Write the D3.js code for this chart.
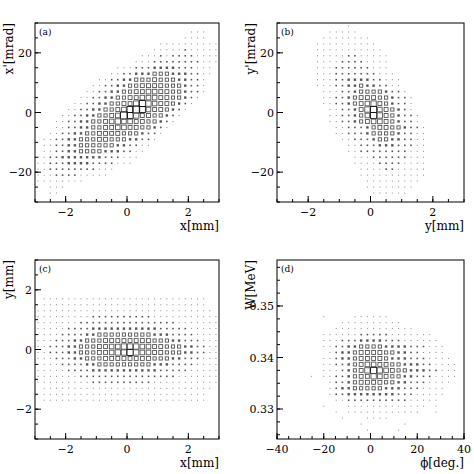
<!DOCTYPE html>
<html><head><meta charset="utf-8">
<script src="https://cdn.jsdelivr.net/npm/d3@7"></script>
<style>body{margin:0;background:#fff} text{font-family:"DejaVu Serif","Liberation Serif",serif}</style>
</head><body><svg id="c" width="474" height="474"></svg>
<script>
// each row: [row index, first column, box levels ('.' = empty)]; 30x30 bins per panel
var cellsA = [
	[1,25,"111"],[2,24,"1111"],[3,20,"1111111111"],[4,19,"11111211111"],
	[5,17,"1112122221111"],[6,16,"11122222222111"],[7,13,"1112223333222111"],
	[8,12,"11223334443332211"],[9,10,"112233444544433221"],[10,9,"1122334455554443221"],
	[11,8,"11223344556655443221"],[12,7,"11223344556665544321"],[13,6,"11223344557876554321"],
	[14,5,"11223344568986554321"],[15,4,"11223344569875544321"],[16,3,"11223344567665544321"],
	[17,3,"1122334455665544321"],[18,2,"1122334455554443221"],[19,1,"1122334445544433221"],
	[20,1,"112233444444332211"],[21,1,"11223344443332211"],[22,0,"11223333333222111"],
	[23,0,"1122233332222111"],[24,0,"1122222222111"],[25,0,"111222211111"],
	[26,0,"11111111"],[27,2,"111"],[28,2,"11"]
];
var cellsB = [
	[0,11,"1"],[1,8,"11111"],[2,7,"11111111"],[3,6,"1111111111"],[4,6,"11111111111"],
	[5,6,"111112211111"],[6,6,"111122221111"],[7,6,"111222222111"],[8,6,"1112222222111"],
	[9,6,"11122333322111"],[10,6,"11122334332211"],[11,7,"11122344443221"],
	[12,7,"112234555443221"],[13,7,"112234567543221"],[14,8,"11223578654321"],
	[15,8,"112234687543221"],[16,8,"112234566543221"],[17,9,"112223455443221"],
	[18,9,"112223444432211"],[19,10,"11222344332211"],[20,11,"1122233322211"],
	[21,11,"1122222222111"],[22,12,"111222222111"],[23,12,"111122221111"],
	[24,13,"11112211111"],[25,13,"11111111111"],[26,14,"111111111"],
	[27,14,"11111111"],[28,15,"111111"]
];
var cellsC = [
	[6,1,"111111111111111111111111111"],[7,1,"111111111111111111111111111"],
	[8,0,"11111111111111111111111111111"],[9,0,"111111111222222222211111111111"],
	[10,0,"111111122222222222222221111111"],[11,0,"111112222333333333332222211111"],
	[12,0,"111122223344444444433322221111"],[13,0,"111222334445555555544433222111"],
	[14,0,"112223344455667776655444332211"],[15,0,"112223344455677876655444332211"],
	[16,0,"111222334445555555544433222111"],[17,0,"111122223344444444433322221111"],
	[18,0,"111112222333333333332222211111"],[19,0,"111111122222222222222221111111"],
	[20,0,"111111111222222222211111111111"],[21,1,"1111111111111111111111111111"],
	[22,1,"111111111111111111111111111"],[23,1,"111111111111111111111111111"]
];
var cellsD = [
	[9,7,"1....111111"],[10,10,"1111111111"],[11,9,"1111111111111"],
	[12,7,"111111222221111111"],[13,7,"1112223333222111111"],[14,7,"11223344443333222111"],
	[15,8,"1233455554433221111"],[16,7,"112334555543332221111"],[17,7,"1122345665544333221111"],
	[18,7,"1112345787654433322111"],[19,5,"1.1122345576544332221111"],[20,8,"12234555544332221111"],
	[21,8,"1233444443332221111"],[22,8,"1223333333322211111"],[23,9,"11222222222211111"],
	[24,7,"1...1111111111111.1"],[25,9,"1.111111111111..1"],[26,10,"1...1111"],
	[27,13,"1......1"],[28,14,"1....1"]
];
var boxSide = [0,1,1.6,2.4,3.2,3.9,4.6,5.3,6.1,7];

var panels = [
	{cells:cellsA, x0:35,x1:219,y0:23,y1:202, xd:[-3,3], yd:[-30,30], xt:[-2,0,2], xm:0.5, yt:[-20,0,20], ym:5, xl:"x[mm]", yl:"x'[mrad]", tag:"(a)", fx:d3.format("d"), fy:d3.format("d")},
	{cells:cellsB, x0:277,x1:464,y0:23,y1:202, xd:[-3,3], yd:[-30,30], xt:[-2,0,2], xm:0.5, yt:[-20,0,20], ym:5, xl:"y[mm]", yl:"y'[mrad]", tag:"(b)", fx:d3.format("d"), fy:d3.format("d")},
	{cells:cellsC, x0:35,x1:219,y0:260,y1:439, xd:[-3,3], yd:[-3,3], xt:[-2,0,2], xm:0.5, yt:[-2,0,2], ym:0.5, xl:"x[mm]", yl:"y[mm]", tag:"(c)", fx:d3.format("d"), fy:d3.format("d")},
	{cells:cellsD, x0:277,x1:464,y0:260,y1:439, xd:[-40,40], yd:[0.32418,0.35893], xt:[-40,-20,0,20,40], xm:5, yt:[0.33,0.34,0.35], ym:0.0025, xl:"\u03d5[deg.]", yl:"W[MeV]", tag:"(d)", fx:d3.format("d"), fy:d3.format(".2f")}
];

var svg = d3.select("#c");

panels.forEach(function(p) {
	var x = d3.scaleLinear().domain(p.xd).range([p.x0, p.x1]);
	var y = d3.scaleLinear().domain(p.yd).range([p.y1, p.y0]);
	var bx = (p.xd[1]-p.xd[0])/30, by = (p.yd[1]-p.yd[0])/30;
	var g = svg.append("g");

	var boxes = [];
	p.cells.forEach(function(r) {
		r[2].split("").forEach(function(ch, k) {
			if (ch === ".") return;
			boxes.push({col:r[1]+k, row:r[0], lev:+ch});
		});
	});
	g.selectAll("rect.b").data(boxes).enter().append("rect")
		.attr("x", function(d){ return x(p.xd[0]+bx*(d.col+0.5)) - boxSide[d.lev]/2; })
		.attr("y", function(d){ return y(p.yd[1]-by*(d.row+0.5)) - boxSide[d.lev]/2; })
		.attr("width", function(d){ return boxSide[d.lev]; })
		.attr("height", function(d){ return boxSide[d.lev]; })
		.attr("fill", function(d){ return d.lev <= 3 ? (d.lev === 1 ? "#888" : "#555") : "none"; })
		.attr("stroke", function(d){ return d.lev <= 3 ? "none" : (d.lev >= 8 ? "#111" : "#555"); })
		.attr("stroke-width", 0.9);

	g.append("rect").attr("x",p.x0).attr("y",p.y0).attr("width",p.x1-p.x0).attr("height",p.y1-p.y0)
		.attr("fill","none").attr("stroke","#000").attr("stroke-width",1);

	// inward ticks, ROOT style
	var xmin = d3.range(Math.ceil(p.xd[0]/p.xm)*p.xm, p.xd[1]+1e-9, p.xm);
	g.selectAll("line.xm").data(xmin).enter().append("line")
		.attr("x1",x).attr("x2",x).attr("y1",p.y1).attr("y2",p.y1-3).attr("stroke","#000");
	g.selectAll("line.xt").data(p.xt).enter().append("line")
		.attr("x1",x).attr("x2",x).attr("y1",p.y1).attr("y2",p.y1-6).attr("stroke","#000");
	var ymin = d3.range(Math.ceil(p.yd[0]/p.ym)*p.ym, p.yd[1]+1e-9, p.ym);
	g.selectAll("line.ym").data(ymin).enter().append("line")
		.attr("y1",y).attr("y2",y).attr("x1",p.x0).attr("x2",p.x0+3).attr("stroke","#000");
	g.selectAll("line.yt").data(p.yt).enter().append("line")
		.attr("y1",y).attr("y2",y).attr("x1",p.x0).attr("x2",p.x0+6).attr("stroke","#000");

	g.selectAll("text.xl").data(p.xt).enter().append("text")
		.attr("x",x).attr("y",p.y1+14).attr("text-anchor","middle").attr("font-size",11)
		.text(function(d){ return p.fx(d).replace("-","\u2212"); });
	g.selectAll("text.yl").data(p.yt).enter().append("text")
		.attr("x",p.x0-3).attr("y",function(d){ return y(d)+4; }).attr("text-anchor","end").attr("font-size",11)
		.text(function(d){ return p.fy(d).replace("-","\u2212"); });

	g.append("text").attr("x",p.x1).attr("y",p.y1+28).attr("text-anchor","end").attr("font-size",12).text(p.xl);
	g.append("text").attr("transform","translate("+(p.x0-22)+","+p.y0+") rotate(-90)")
		.attr("text-anchor","end").attr("font-size",12).text(p.yl);
	g.append("text").attr("x",p.x0+4).attr("y",p.y0+12).attr("font-size",9).text(p.tag);
});
</script></body></html>
